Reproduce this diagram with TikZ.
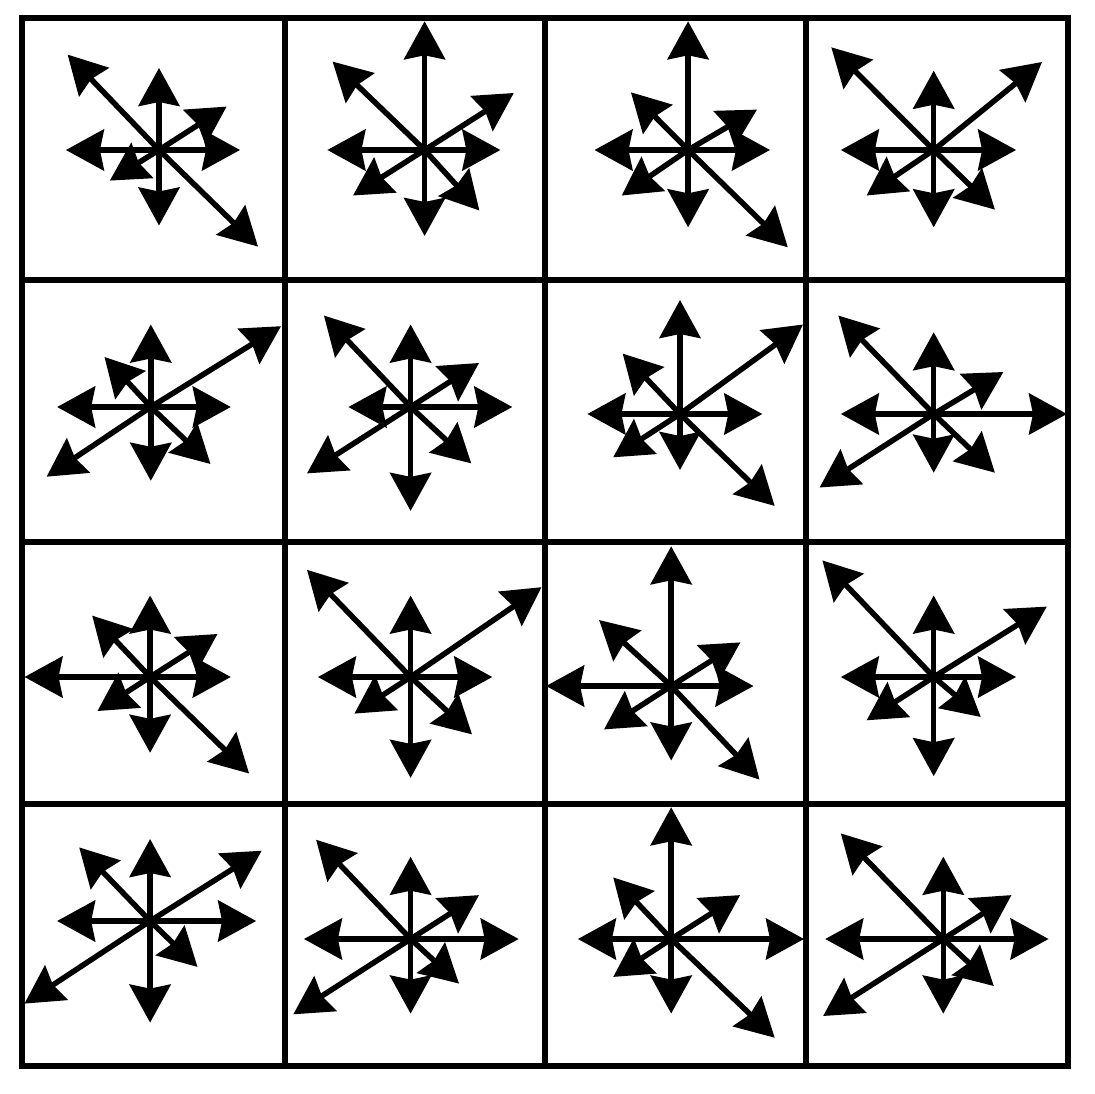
\documentclass[tikz,border=0pt]{standalone}
\usetikzlibrary{arrows.meta}

\tikzset{
  grid/.style={line width=5.5pt},
  grad/.style={line width=5.5pt, -{Stealth[length=38pt,width=41pt,inset=4pt]}}
}

\begin{document}
\begin{tikzpicture}[x=1pt,y=-1pt]
        \useasboundingbox (0,0) rectangle (1095,1094);
        % cells of the grid
        \draw[grid] (22,18) rectangle (1068,1066);
        \foreach \x in {285,545,806} \draw[grid] (\x,18) -- (\x,1066);
        \foreach \y in {280,542,804} \draw[grid] (22,\y) -- (1068,\y);

        % row 1
        \coordinate (c11) at (159,150);
        \foreach \x/\y in {240/150, 226.6/106.6, 159/68, 67.6/54.6, 65.9/150, 109.8/180.6, 159/225.5, 258/246.6}
          \draw[grad] (c11) -- (\x,\y);
        \coordinate (c12) at (424.6,150);
        \foreach \x/\y in {500.4/150, 513.8/93, 424.6/21.3, 332.6/61.6, 327.4/150, 353/195.5, 424.6/236, 479.4/210.5}
          \draw[grad] (c12) -- (\x,\y);
        \coordinate (c13) at (688.1,150);
        \foreach \x/\y in {770/150, 757/109.6, 688.1/21.3, 630.9/92.3, 594.5/150, 621.7/195.5, 688.1/227.3, 787.8/247.3}
          \draw[grad] (c13) -- (\x,\y);
        \coordinate (c14) at (933.7,150);
        \foreach \x/\y in {1016.1/150, 1042/62, 933.7/70.7, 831.3/47.3, 840.8/150, 866.6/195.5, 933.7/227.3, 994.9/209.6}
          \draw[grad] (c14) -- (\x,\y);

        % row 2
        \coordinate (c21) at (150.8,407);
        \foreach \x/\y in {230.8/407, 281/326.2, 150.8/324.5, 104.5/357, 57.1/407, 46.6/476.7, 150.8/480.8, 210.5/464}
          \draw[grad] (c21) -- (\x,\y);
        \coordinate (c22) at (410.6,407);
        \foreach \x/\y in {512.3/407, 479/363, 410.6/324.5, 323.9/315.5, 348.4/407, 307/473.4, 410.6/510.9, 471.3/463.4}
          \draw[grad] (c22) -- (\x,\y);
        \coordinate (c23) at (680,414);
        \foreach \x/\y in {762.3/414, 803/324.5, 680/300, 622.7/353.6, 587.4/414, 613.2/457.3, 680/470, 774.7/505.9}
          \draw[grad] (c23) -- (\x,\y);
        \coordinate (c24) at (933.7,414);
        \foreach \x/\y in {1067/414, 1003.4/372, 933.7/332.2, 838.3/315.5, 840.8/414, 819.6/487.5, 933.7/472.7, 994.9/472.7}
          \draw[grad] (c24) -- (\x,\y);

        % row 3
        \coordinate (c31) at (150.1,677);
        \foreach \x/\y in {230.8/677, 217.5/634, 150.1/595.5, 92.2/615.6, 24.5/677, 97.5/711, 150.1/752.8, 249.1/773.5}
          \draw[grad] (c31) -- (\x,\y);
        \coordinate (c32) at (410.6,677);
        \foreach \x/\y in {492.3/677, 541.5/587.2, 410.6/595.5, 307/569.8, 317.9/677, 354.4/713.6, 410.6/777.9, 472/734.4}
          \draw[grad] (c32) -- (\x,\y);
        \coordinate (c33) at (671.2,686);
        \foreach \x/\y in {753.5/686, 740.4/642.4, 671.2/546.3, 599.1/620, 546.1/686, 604/729.4, 671.2/760.5, 759.5/779.6}
          \draw[grad] (c33) -- (\x,\y);
        \coordinate (c34) at (933.7,677);
        \foreach \x/\y in {1016.1/677, 1046.8/606.6, 933.7/595.5, 822.4/560.4, 840.8/677, 866.6/720.3, 933.7/776.2, 980.8/717}
          \draw[grad] (c34) -- (\x,\y);

        % row 4
        \coordinate (c41) at (150.1,921);
        \foreach \x/\y in {256.1/921, 261.7/850.7, 150.1/839, 79.2/847.4, 57.1/921, 24.5/1003.6, 150.1/1022.6, 197.5/966.9}
          \draw[grad] (c41) -- (\x,\y);
        \coordinate (c42) at (410.6,939);
        \foreach \x/\y in {518.7/939, 479/895.1, 410.6/856.7, 316.1/839.7, 303.9/939, 293.3/1014.3, 410.6/1013.6, 459/983.6}
          \draw[grad] (c42) -- (\x,\y);
        \coordinate (c43) at (671.2,939);
        \foreach \x/\y in {804/939, 740.1/895.1, 671.2/807.3, 613.2/877.4, 577.9/939, 613.2/976.9, 671.2/1013.6, 774.7/1037.7}
          \draw[grad] (c43) -- (\x,\y);
        \coordinate (c44) at (943.3,939);
        \foreach \x/\y in {1048.6/939, 1011.5/895.1, 943.3/856.7, 840.8/833.4, 825.2/939, 823.1/1016, 943.3/1013.6, 993.8/986}
          \draw[grad] (c44) -- (\x,\y);
    \end{tikzpicture}
\end{document}
